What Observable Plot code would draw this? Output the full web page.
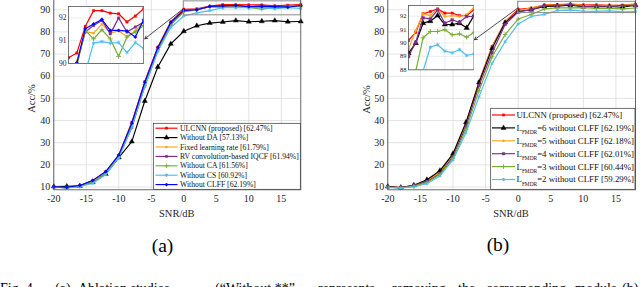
<!DOCTYPE html>
<html><head><meta charset="utf-8">
<script src="https://cdn.jsdelivr.net/npm/d3@7"></script>
<script src="https://cdn.jsdelivr.net/npm/@observablehq/plot@0.6"></script>
<style>
html,body{margin:0;padding:0;background:#fff;}
#root{position:relative;width:640px;height:287px;overflow:hidden;background:#fff;font-family:"Liberation Serif","Times New Roman",serif;}
#root > *{position:absolute;}
#root svg, #root svg text{font-family:"Liberation Serif","Times New Roman",serif !important;}
</style></head>
<body><div id="root"></div>
<script>
// ---------- data ----------
const snr = [-20,-18,-16,-14,-12,-10,-8,-6,-4,-2,0,2,4,6,8,10,12,14,16,18];
const xTicks = [-20,-15,-10,-5,0,5,10,15];
const yTicks = [10,20,30,40,50,60,70,80,90];

// panel (a): ablation studies
const accA_ULCNN  = [10.1, 9.8,10.6,12.9,16.9,24.3,39.2,57.6,73.2,84.6,90.25,90.46,91.62,92.32,92.32,92.21,92.18,91.82,92.08,92.40];
const accA_noDA   = [10.2,10.3,10.5,12.3,15.9,23.3,30.5,48.8,64.2,74.6,80.3,82.8,84.0,84.5,85.1,84.6,84.8,85.1,84.6,84.7];
const accA_fixLR  = [ 9.9, 9.7,10.5,12.6,16.4,23.9,38.1,56.6,72.3,83.9,89.4,90.1,91.40,91.33,91.73,91.33,91.43,91.18,91.43,91.84];
const accA_RV     = [10.0, 9.6,10.4,12.2,16.0,23.5,36.8,55.5,71.5,83.5,89.5,90.0,91.38,91.67,91.89,91.30,92.00,91.38,91.60,91.82];
const accA_noCA   = [ 9.9, 9.7,10.4,12.3,16.1,23.6,37.5,56.0,72.0,83.2,89.1,89.9,91.45,91.08,91.48,91.08,90.31,91.16,91.38,91.67];
const accA_noCS   = [10.0, 9.6,10.2,11.6,15.6,23.2,37.0,55.4,71.2,82.0,87.2,88.6,89.6,90.89,90.96,90.89,90.92,90.48,90.92,90.66];
const accA_noCLFF = [10.1, 9.9,10.7,13.0,17.0,24.5,38.8,57.3,72.9,84.3,89.7,90.02,91.52,91.73,91.93,91.45,91.45,91.42,91.16,91.92];
const labelsA = ["ULCNN (proposed) [62.47%]","Without DA [57.13%]","Fixed learning rate [61.79%]",
  "RV convolution-based IQCF [61.94%]","Without CA [61.56%]","Without CS [60.92%]","Without CLFF [62.19%]"];

// panel (b): number of FMDR layers
const accB_ULCNN = [10.1, 9.7,10.6,12.7,16.9,24.3,38.6,57.6,73.4,84.6,90.19,90.80,92.18,92.35,92.55,92.23,92.23,92.05,92.05,92.48];
const accB_L6    = [10.2, 9.8,10.8,13.3,17.4,25.0,39.2,57.2,72.6,84.2,89.24,89.99,91.48,91.63,92.05,91.38,91.38,91.48,91.13,92.05];
const accB_L5    = [10.0, 9.7,10.5,12.6,16.7,24.1,38.3,57.4,73.3,84.5,89.55,90.93,92.18,92.05,92.55,91.98,92.05,91.98,92.13,92.63];
const accB_L4    = [10.0, 9.6,10.9,12.4,16.0,23.6,37.4,55.8,70.6,83.4,88.99,90.06,91.88,91.80,92.48,91.48,91.73,91.55,91.98,91.98];
const accB_L3    = [ 9.9, 9.6,10.3,12.0,15.6,23.0,36.0,53.5,68.8,78.8,85.8,87.9,90.39,90.86,90.86,90.99,90.61,90.69,90.43,90.81];
const accB_L2    = [ 9.8, 9.5,10.1,11.5,15.0,22.2,34.5,50.8,65.8,75.6,83.6,87.0,87.9,89.69,89.87,89.39,89.27,89.51,89.07,89.19];
const labelsB = ["ULCNN (proposed) [62.47%]","=6 without CLFF [62.19%]","=5 without CLFF [62.18%]",
  "=4 without CLFF [62.01%]","=3 without CLFF [60.44%]","=2 without CLFF [59.29%]"];

// zoom windows / arrows (data coordinates)
const zoomA = {x1:0, x2:18, y1:87.5, y2:93.8};
const zoomB = {x1:0, x2:18, y1:88.5, y2:93.6};
const arrowA = {x1:0, y1:90.6, x2:-6.0, y2:76.9};
const arrowB = {x1:0, y1:90.9, x2:-6.7, y2:76.5};

// ---------- styles ----------
const RED="#FF0000", BLACK="#000000", ORANGE="#F5A81C", PURPLE="#7E2F8E", GREEN="#77AC30", CYAN="#4DBEEE", BLUE="#0000FF";
const seriesA = [
  {values:accA_ULCNN,  color:RED,    symbol:"square",   r:1.3},
  {values:accA_noDA,   color:BLACK,  symbol:"triangle", r:1.9},
  {values:accA_fixLR,  color:ORANGE, symbol:"circle",   r:1.1},
  {values:accA_RV,     color:PURPLE, symbol:"square",   r:1.3},
  {values:accA_noCA,   color:GREEN,  symbol:"plus",     r:1.6},
  {values:accA_noCS,   color:CYAN,   symbol:"asterisk", r:1.6},
  {values:accA_noCLFF, color:BLUE,   symbol:"diamond2", r:1.5}
];
const seriesB = [
  {values:accB_ULCNN, color:RED,    symbol:"square",   r:1.3},
  {values:accB_L5,    color:ORANGE, symbol:"circle",   r:1.1},
  {values:accB_L6,    color:BLACK,  symbol:"triangle", r:1.9},
  {values:accB_L4,    color:PURPLE, symbol:"square",   r:1.5},
  {values:accB_L3,    color:GREEN,  symbol:"plus",     r:1.6},
  {values:accB_L2,    color:CYAN,   symbol:"asterisk", r:1.6}
];
const legendOrderB = [0,2,1,3,4,5];

const FONT = '"Liberation Serif", "Times New Roman", serif';
const strokeOnly = new Set(["plus","asterisk","times","cross"]);

function seriesMarks(series, xs, opts = {}) {
  const marks = [];
  for (const s of series) {
    const data = xs.map(x => ({x, y: s.values[snr.indexOf(x)]}));
    marks.push(Plot.line(data, {x:"x", y:"y", stroke:s.color, strokeWidth:opts.sw ?? 1.15, clip:opts.clip}));
    const so = strokeOnly.has(s.symbol);
    marks.push(Plot.dot(data, {x:"x", y:"y", symbol:s.symbol, r:s.r * (opts.rs ?? 1),
      fill: so ? "none" : s.color, stroke:s.color, strokeWidth: so ? 0.9 : 0.4, clip:opts.clip}));
  }
  return marks;
}

function mainPlot(series, zoom, arrow, ml, mr) {
  return Plot.plot({
    width:320, height:237, marginLeft:ml, marginRight:mr, marginTop:0, marginBottom:35.7,
    x:{domain:[-20,18]}, y:{domain:[8.74, 99.6]},
    style:`font-family:${FONT};font-size:10px;background:transparent;color:#262626;`,
    marks:[
      Plot.gridX(xTicks, {stroke:"#d9d9d9", strokeOpacity:1, strokeWidth:0.7}),
      Plot.gridY(yTicks, {stroke:"#d9d9d9", strokeOpacity:1, strokeWidth:0.7}),
      Plot.axisX(xTicks, {tickSize:0, tickPadding:5, tickFormat:d => String(d), label:null}),
      Plot.axisY(yTicks, {tickSize:0, tickPadding:3.5, label:null}),
      ...seriesMarks(series, snr),
      Plot.rect([zoom], {x1:"x1", x2:"x2", y1:"y1", y2:"y2", fill:"none", stroke:"#8a8a8a", strokeWidth:1}),
      Plot.arrow([arrow], {x1:"x1", y1:"y1", x2:"x2", y2:"y2", stroke:"#111", strokeWidth:0.75, headLength:6}),
      Plot.frame({stroke:"#444", strokeWidth:0.8})
    ]
  });
}

function insetPlot(series, yDomain, yT, fw, fh, ml, fs) {
  const xs = snr.filter(d => d >= 0);
  return Plot.plot({
    width: ml + fw + 1, height: fh + 6, marginLeft: ml, marginRight:1, marginTop:1, marginBottom:5,
    x:{domain:[0,18], axis:null}, y:{domain:yDomain},
    style:`font-family:${FONT};font-size:${fs}px;background:transparent;color:#262626;`,
    marks:[
      Plot.frame({fill:"white"}),
      Plot.gridX([5,10,15], {stroke:"#e0e0e0", strokeOpacity:1, strokeWidth:0.6}),
      Plot.gridY(yT, {stroke:"#e0e0e0", strokeOpacity:1, strokeWidth:0.6}),
      Plot.axisY(yT, {tickSize:0, tickPadding:2, label:null}),
      ...seriesMarks(series, xs, {clip:true, sw:1.2, rs:1.05}),
      Plot.frame({stroke:"#555", strokeWidth:0.8})
    ]
  });
}

const root = document.getElementById("root");
function place(el, left, top) { el.style.position="absolute"; el.style.left=left+"px"; el.style.top=top+"px"; root.appendChild(el); }

// main plots
place(mainPlot(seriesA, zoomA, arrowA, 53.3, 19.7), 0, -12);
place(mainPlot(seriesB, zoomB, arrowB, 67.3, 5), 320, -12);
// insets
place(insetPlot(seriesA, [90,92.5], [90,91,92], 75.2, 57, 14, 7.5), 68.3-14, 5.7-1);
place(insetPlot(seriesB, [88,92.8], [88,89,90,91,92], 65.5, 64.3, 10, 6.5), 407.5-10, 5-1);

// ---------- overlay: labels, legends, caption ----------
const svg = d3.select(root).append("svg").attr("width",640).attr("height",287)
  .style("position","absolute").style("left","0px").style("top","0px")
  .style("font-family", FONT).attr("fill","#262626");

function ylab(x, y) {
  svg.append("text").attr("transform",`translate(${x},${y}) rotate(-90)`).attr("text-anchor","middle")
    .attr("dy","0.35em").attr("font-size",10.5).text("Acc/%");
}
ylab(31.7, 98.5); ylab(366.7, 99.5);
svg.append("text").attr("x",176.8).attr("y",213.3).attr("dy","0.35em").attr("text-anchor","middle").attr("font-size",10.5).text("SNR/dB");
svg.append("text").attr("x",511).attr("y",213.3).attr("dy","0.35em").attr("text-anchor","middle").attr("font-size",10.5).text("SNR/dB");
svg.append("text").attr("x",162.5).attr("y",245).attr("dy","0.35em").attr("text-anchor","middle").attr("font-size",19.5).attr("fill","#000").text("(a)");
svg.append("text").attr("x",498).attr("y",244).attr("dy","0.35em").attr("text-anchor","middle").attr("font-size",19.5).attr("fill","#000").text("(b)");

const d3sym = {square:d3.symbolSquare, triangle:d3.symbolTriangle, circle:d3.symbolCircle,
  plus:d3.symbolPlus, asterisk:d3.symbolAsterisk, diamond2:d3.symbolDiamond2};
function legendMarker(g, s, cx, cy) {
  const so = strokeOnly.has(s.symbol);
  g.append("path").attr("transform",`translate(${cx},${cy})`)
    .attr("d", d3.symbol(d3sym[s.symbol], Math.PI*s.r*s.r)())
    .attr("fill", so ? "none" : s.color).attr("stroke", s.color).attr("stroke-width", so ? 0.9 : 0.4);
}

// legend (a)
{
  const g = svg.append("g");
  g.append("rect").attr("x",153.3).attr("y",123.3).attr("width",147).attr("height",66)
    .attr("fill","white").attr("stroke","#333").attr("stroke-width",0.7);
  seriesA.forEach((s,i) => {
    const cy = 128.2 + i*9.4;
    g.append("line").attr("x1",155.5).attr("x2",177.5).attr("y1",cy).attr("y2",cy).attr("stroke",s.color).attr("stroke-width",1.15);
    legendMarker(g, s, 166.5, cy);
    g.append("text").attr("x",180).attr("y",cy).attr("dy","0.33em").attr("font-size",7.7).attr("fill","#111").text(labelsA[i]);
  });
}
// legend (b)
{
  const g = svg.append("g");
  g.append("rect").attr("x",490.7).attr("y",108.3).attr("width",144.3).attr("height",81)
    .attr("fill","white").attr("stroke","#333").attr("stroke-width",0.7);
  legendOrderB.forEach((k,i) => {
    const s = seriesB[k];
    const cy = 115 + i*12.9;
    g.append("line").attr("x1",492).attr("x2",515).attr("y1",cy).attr("y2",cy).attr("stroke",s.color).attr("stroke-width",1.15);
    legendMarker(g, s, 503.5, cy);
    const t = g.append("text").attr("x",516.5).attr("y",cy).attr("dy","0.33em").attr("font-size",8.8).attr("fill","#111");
    if (i === 0) t.text(labelsB[0]);
    else {
      t.append("tspan").text("L");
      t.append("tspan").attr("font-size",5.4).attr("dy",3.4).text("FMDR");
      t.append("tspan").attr("dy",-3.4).text(labelsB[i]);
    }
  });
}

// caption (cut off at the bottom of the picture)
const capWords = [["Fig. 4.",0],["(a)",55],["Ablation studies.",78],["(“Without **”",215],["represents",318],["removing",392],["the",458],["corresponding",486],["module.",575],["(b)",622]];
capWords.forEach(([w,x]) => svg.append("text").attr("x",x).attr("y",293).attr("font-size",14).attr("fill","#000").text(w));
</script>
</body></html>
